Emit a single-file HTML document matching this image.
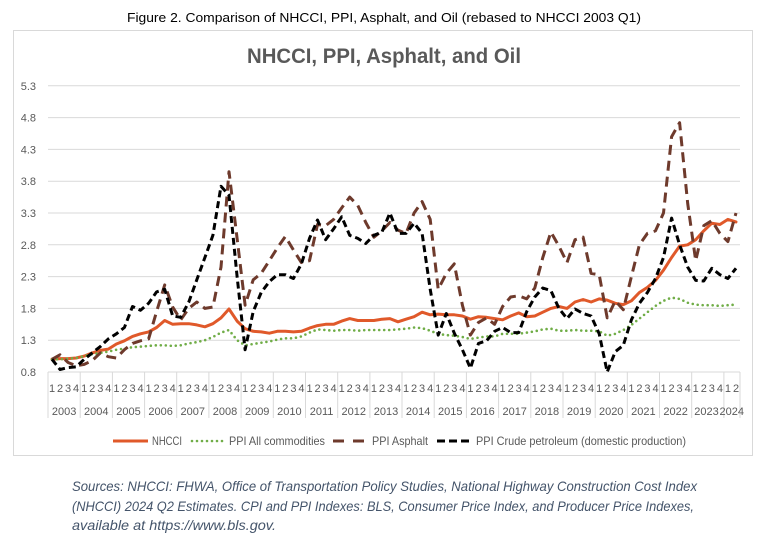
<!DOCTYPE html>
<html>
<head>
<meta charset="utf-8">
<style>
  html, body { margin: 0; padding: 0; background: #ffffff; }
  body { width: 768px; height: 552px; overflow: hidden; }
  svg { display: block; }
  text { font-family: "Liberation Sans", "DejaVu Sans", sans-serif; }
</style>
</head>
<body>
<svg width="768" height="552" viewBox="0 0 768 552" xmlns="http://www.w3.org/2000/svg">
  <rect x="0" y="0" width="768" height="552" fill="#ffffff"/>

  <!-- Caption -->
  <text x="127" y="22" font-size="13" fill="#000000" textLength="514" lengthAdjust="spacingAndGlyphs">Figure 2. Comparison of NHCCI, PPI, Asphalt, and Oil (rebased to NHCCI 2003 Q1)</text>

  <!-- Chart box -->
  <rect x="13.5" y="30.5" width="739" height="425" fill="#ffffff" stroke="#d9d9d9" stroke-width="1"/>

  <!-- Title -->
  <text x="247" y="63" font-size="21" font-weight="bold" fill="#595959" textLength="274" lengthAdjust="spacingAndGlyphs">NHCCI, PPI, Asphalt, and Oil</text>

  <!-- Gridlines -->
  <g stroke="#d9d9d9" stroke-width="1">
    <line x1="48" y1="85.8" x2="740" y2="85.8"/>
    <line x1="48" y1="117.6" x2="740" y2="117.6"/>
    <line x1="48" y1="149.4" x2="740" y2="149.4"/>
    <line x1="48" y1="181.2" x2="740" y2="181.2"/>
    <line x1="48" y1="213.0" x2="740" y2="213.0"/>
    <line x1="48" y1="244.8" x2="740" y2="244.8"/>
    <line x1="48" y1="276.6" x2="740" y2="276.6"/>
    <line x1="48" y1="308.4" x2="740" y2="308.4"/>
    <line x1="48" y1="340.2" x2="740" y2="340.2"/>
    <line x1="48" y1="372.0" x2="740" y2="372.0"/>
  </g>

  <!-- Y labels -->
  <g font-size="11" fill="#595959" text-anchor="end">
    <text x="36" y="89.8">5.3</text>
    <text x="36" y="121.6">4.8</text>
    <text x="36" y="153.4">4.3</text>
    <text x="36" y="185.2">3.8</text>
    <text x="36" y="217.0">3.3</text>
    <text x="36" y="248.8">2.8</text>
    <text x="36" y="280.6">2.3</text>
    <text x="36" y="312.4">1.8</text>
    <text x="36" y="344.2">1.3</text>
    <text x="36" y="376.0">0.8</text>
  </g>

  <!-- Category tick lines -->
  <g stroke="#d9d9d9" stroke-width="1">
    <line x1="48.0" y1="372" x2="48.0" y2="418"/>
    <line x1="80.2" y1="372" x2="80.2" y2="418"/>
    <line x1="112.4" y1="372" x2="112.4" y2="418"/>
    <line x1="144.6" y1="372" x2="144.6" y2="418"/>
    <line x1="176.7" y1="372" x2="176.7" y2="418"/>
    <line x1="208.9" y1="372" x2="208.9" y2="418"/>
    <line x1="241.1" y1="372" x2="241.1" y2="418"/>
    <line x1="273.3" y1="372" x2="273.3" y2="418"/>
    <line x1="305.5" y1="372" x2="305.5" y2="418"/>
    <line x1="337.7" y1="372" x2="337.7" y2="418"/>
    <line x1="369.9" y1="372" x2="369.9" y2="418"/>
    <line x1="402.0" y1="372" x2="402.0" y2="418"/>
    <line x1="434.2" y1="372" x2="434.2" y2="418"/>
    <line x1="466.4" y1="372" x2="466.4" y2="418"/>
    <line x1="498.6" y1="372" x2="498.6" y2="418"/>
    <line x1="530.8" y1="372" x2="530.8" y2="418"/>
    <line x1="563.0" y1="372" x2="563.0" y2="418"/>
    <line x1="595.2" y1="372" x2="595.2" y2="418"/>
    <line x1="627.3" y1="372" x2="627.3" y2="418"/>
    <line x1="659.5" y1="372" x2="659.5" y2="418"/>
    <line x1="691.7" y1="372" x2="691.7" y2="418"/>
    <line x1="723.9" y1="372" x2="723.9" y2="418"/>
    <line x1="740.0" y1="372" x2="740.0" y2="418"/>
  </g>

  <!-- Quarter labels -->
  <g font-size="11" fill="#595959" text-anchor="middle">
    <text y="392"><tspan x="52.0">1</tspan><tspan x="60.0">2</tspan><tspan x="68.1">3</tspan><tspan x="76.1">4</tspan><tspan x="84.2">1</tspan><tspan x="92.2">2</tspan><tspan x="100.3">3</tspan><tspan x="108.3">4</tspan><tspan x="116.4">1</tspan><tspan x="124.4">2</tspan><tspan x="132.5">3</tspan><tspan x="140.5">4</tspan><tspan x="148.6">1</tspan><tspan x="156.6">2</tspan><tspan x="164.7">3</tspan><tspan x="172.7">4</tspan><tspan x="180.7">1</tspan><tspan x="188.8">2</tspan><tspan x="196.8">3</tspan><tspan x="204.9">4</tspan><tspan x="212.9">1</tspan><tspan x="221.0">2</tspan><tspan x="229.0">3</tspan><tspan x="237.1">4</tspan><tspan x="245.1">1</tspan><tspan x="253.2">2</tspan><tspan x="261.2">3</tspan><tspan x="269.3">4</tspan><tspan x="277.3">1</tspan><tspan x="285.3">2</tspan><tspan x="293.4">3</tspan><tspan x="301.4">4</tspan><tspan x="309.5">1</tspan><tspan x="317.5">2</tspan><tspan x="325.6">3</tspan><tspan x="333.6">4</tspan><tspan x="341.7">1</tspan><tspan x="349.7">2</tspan><tspan x="357.8">3</tspan><tspan x="365.8">4</tspan><tspan x="373.9">1</tspan><tspan x="381.9">2</tspan><tspan x="389.9">3</tspan><tspan x="398.0">4</tspan><tspan x="406.0">1</tspan><tspan x="414.1">2</tspan><tspan x="422.1">3</tspan><tspan x="430.2">4</tspan><tspan x="438.2">1</tspan><tspan x="446.3">2</tspan><tspan x="454.3">3</tspan><tspan x="462.4">4</tspan><tspan x="470.4">1</tspan><tspan x="478.5">2</tspan><tspan x="486.5">3</tspan><tspan x="494.6">4</tspan><tspan x="502.6">1</tspan><tspan x="510.7">2</tspan><tspan x="518.7">3</tspan><tspan x="526.7">4</tspan><tspan x="534.8">1</tspan><tspan x="542.8">2</tspan><tspan x="550.9">3</tspan><tspan x="558.9">4</tspan><tspan x="567.0">1</tspan><tspan x="575.0">2</tspan><tspan x="583.1">3</tspan><tspan x="591.1">4</tspan><tspan x="599.2">1</tspan><tspan x="607.2">2</tspan><tspan x="615.3">3</tspan><tspan x="623.3">4</tspan><tspan x="631.4">1</tspan><tspan x="639.4">2</tspan><tspan x="647.4">3</tspan><tspan x="655.5">4</tspan><tspan x="663.5">1</tspan><tspan x="671.6">2</tspan><tspan x="679.6">3</tspan><tspan x="687.7">4</tspan><tspan x="695.7">1</tspan><tspan x="703.8">2</tspan><tspan x="711.8">3</tspan><tspan x="719.9">4</tspan><tspan x="727.9">1</tspan><tspan x="736.0">2</tspan></text>
  </g>

  <!-- Year labels -->
  <g font-size="11" fill="#595959" text-anchor="middle">
    <text x="64.1" y="415">2003</text>
    <text x="96.3" y="415">2004</text>
    <text x="128.5" y="415">2005</text>
    <text x="160.6" y="415">2006</text>
    <text x="192.8" y="415">2007</text>
    <text x="225.0" y="415">2008</text>
    <text x="257.2" y="415">2009</text>
    <text x="289.4" y="415">2010</text>
    <text x="321.6" y="415">2011</text>
    <text x="353.8" y="415">2012</text>
    <text x="386.0" y="415">2013</text>
    <text x="418.1" y="415">2014</text>
    <text x="450.3" y="415">2015</text>
    <text x="482.5" y="415">2016</text>
    <text x="514.7" y="415">2017</text>
    <text x="546.9" y="415">2018</text>
    <text x="579.1" y="415">2019</text>
    <text x="611.2" y="415">2020</text>
    <text x="643.4" y="415">2021</text>
    <text x="675.6" y="415">2022</text>
    <text x="706.5" y="415">2023</text>
    <text x="731.8" y="415">2024</text>
  </g>

  <!-- NHCCI -->
  <polyline fill="none" stroke="#e0592a" stroke-width="3" stroke-linejoin="round" stroke-linecap="round"
    points="52.0,359.3 60.0,358.6 68.1,358.6 76.1,358.0 84.2,356.1 92.2,352.9 100.3,350.4 108.3,349.1 116.4,344.0 124.4,340.8 132.5,336.4 140.5,333.8 148.6,331.9 156.6,327.5 164.7,320.5 172.7,324.3 180.7,323.7 188.8,323.7 196.8,324.9 204.9,326.8 212.9,323.7 221.0,317.9 229.0,309.0 237.1,321.1 245.1,328.7 253.2,331.3 261.2,331.9 269.3,333.2 277.3,331.3 285.3,331.3 293.4,331.9 301.4,331.3 309.5,328.1 317.5,325.6 325.6,324.3 333.6,324.3 341.7,321.1 349.7,318.6 357.8,320.5 365.8,320.5 373.9,320.5 381.9,319.2 389.9,318.6 398.0,321.8 406.0,319.2 414.1,316.7 422.1,312.2 430.2,314.8 438.2,314.1 446.3,314.8 454.3,314.8 462.4,316.0 470.4,319.2 478.5,316.7 486.5,317.3 494.6,318.6 502.6,319.8 510.7,316.0 518.7,312.9 526.7,316.7 534.8,316.0 542.8,312.2 550.9,308.4 558.9,306.5 567.0,308.4 575.0,302.0 583.1,299.5 591.1,302.0 599.2,298.9 607.2,300.1 615.3,303.3 623.3,304.6 631.4,300.8 639.4,292.5 647.4,287.4 655.5,280.4 663.5,270.2 671.6,257.5 679.6,246.1 687.7,244.8 695.7,239.7 703.8,230.8 711.8,223.2 719.9,224.5 727.9,219.4 736.0,221.9"/>

  <!-- PPI All commodities -->
  <polyline fill="none" stroke="#70ad47" stroke-width="2.6" stroke-linecap="round" stroke-dasharray="0 5"
    points="52.0,359.3 60.0,359.3 68.1,358.6 76.1,358.0 84.2,356.1 92.2,354.2 100.3,352.9 108.3,351.6 116.4,349.7 124.4,348.5 132.5,347.2 140.5,346.6 148.6,345.9 156.6,345.3 164.7,345.3 172.7,345.9 180.7,345.3 188.8,343.4 196.8,342.1 204.9,340.2 212.9,337.0 221.0,332.6 229.0,330.0 237.1,340.2 245.1,345.3 253.2,344.0 261.2,342.7 269.3,341.5 277.3,339.6 285.3,338.3 293.4,338.3 301.4,336.4 309.5,332.6 317.5,329.4 325.6,330.0 333.6,330.7 341.7,330.0 349.7,330.0 357.8,330.7 365.8,330.0 373.9,330.0 381.9,330.0 389.9,330.0 398.0,329.4 406.0,328.7 414.1,327.5 422.1,328.1 430.2,330.7 438.2,333.8 446.3,335.1 454.3,335.7 462.4,337.0 470.4,338.9 478.5,337.6 486.5,336.4 494.6,336.4 502.6,333.8 510.7,333.8 518.7,333.8 526.7,332.6 534.8,331.3 542.8,329.4 550.9,328.7 558.9,330.7 567.0,330.7 575.0,330.0 583.1,330.7 591.1,330.7 599.2,331.3 607.2,335.7 615.3,333.8 623.3,330.0 631.4,324.9 639.4,318.6 647.4,312.2 655.5,305.9 663.5,300.8 671.6,297.6 679.6,298.9 687.7,302.7 695.7,304.6 703.8,305.2 711.8,305.2 719.9,305.9 727.9,305.2 736.0,304.6"/>

  <!-- PPI Asphalt -->
  <polyline fill="none" stroke="#6e3a2c" stroke-width="3" stroke-linejoin="round" stroke-dasharray="10 6"
    points="52.0,359.3 60.0,354.8 68.1,362.5 76.1,365.7 84.2,364.4 92.2,360.6 100.3,352.9 108.3,356.7 116.4,358.0 124.4,349.7 132.5,343.4 140.5,340.8 148.6,338.9 156.6,311.6 164.7,284.9 172.7,307.1 180.7,319.8 188.8,308.4 196.8,302.0 204.9,308.4 212.9,307.1 221.0,267.1 229.0,171.7 237.1,238.4 245.1,305.2 253.2,279.8 261.2,273.4 269.3,260.7 277.3,248.0 285.3,236.5 293.4,249.9 301.4,262.6 309.5,260.7 317.5,224.5 325.6,225.7 333.6,219.4 341.7,207.9 349.7,197.1 357.8,205.4 365.8,222.5 373.9,237.2 381.9,230.8 389.9,222.5 398.0,230.2 406.0,233.4 414.1,213.0 422.1,201.6 430.2,219.4 438.2,289.3 446.3,273.4 454.3,263.9 462.4,305.2 470.4,335.1 478.5,322.4 486.5,317.9 494.6,324.3 502.6,306.5 510.7,297.0 518.7,295.7 526.7,298.9 534.8,288.0 542.8,257.5 550.9,232.1 558.9,246.1 567.0,262.6 575.0,239.7 583.1,237.2 591.1,273.4 599.2,274.7 607.2,317.9 615.3,300.8 623.3,309.7 631.4,276.6 639.4,244.8 647.4,233.4 655.5,230.8 663.5,213.0 671.6,136.7 679.6,122.7 687.7,203.5 695.7,260.7 703.8,225.7 711.8,220.6 719.9,233.4 727.9,241.6 736.0,213.0"/>

  <!-- PPI Crude petroleum -->
  <polyline fill="none" stroke="#000000" stroke-width="3" stroke-linejoin="round" stroke-dasharray="7 4"
    points="52.0,359.3 60.0,369.5 68.1,367.6 76.1,366.9 84.2,359.3 92.2,352.9 100.3,346.6 108.3,338.9 116.4,333.8 124.4,327.5 132.5,306.5 140.5,310.3 148.6,303.3 156.6,291.9 164.7,289.3 172.7,316.0 180.7,317.3 188.8,302.0 196.8,279.8 204.9,257.5 212.9,235.3 221.0,186.3 229.0,195.2 237.1,276.6 245.1,349.7 253.2,311.6 261.2,292.5 269.3,281.7 277.3,274.7 285.3,274.7 293.4,278.5 301.4,263.9 309.5,238.4 317.5,220.0 325.6,239.7 333.6,228.9 341.7,216.8 349.7,235.3 357.8,238.4 365.8,243.5 373.9,235.3 381.9,232.1 389.9,213.0 398.0,233.4 406.0,233.4 414.1,223.2 422.1,233.4 430.2,289.3 438.2,335.1 446.3,313.5 454.3,333.2 462.4,349.7 470.4,368.2 478.5,343.4 486.5,340.8 494.6,331.3 502.6,327.5 510.7,332.6 518.7,332.6 526.7,311.6 534.8,297.0 542.8,288.0 550.9,290.6 558.9,308.4 567.0,318.6 575.0,309.0 583.1,313.5 591.1,316.0 599.2,333.8 607.2,372.0 615.3,351.6 623.3,345.3 631.4,319.8 639.4,303.3 647.4,292.5 655.5,278.5 663.5,257.5 671.6,218.1 679.6,244.8 687.7,267.1 695.7,280.4 703.8,281.0 711.8,268.3 719.9,274.7 727.9,278.5 736.0,268.3"/>

  <!-- Legend -->
  <line x1="113" y1="441" x2="148" y2="441" stroke="#e0592a" stroke-width="3"/>
  <text x="152" y="445" font-size="12" fill="#595959" textLength="30" lengthAdjust="spacingAndGlyphs">NHCCI</text>
  <line x1="192" y1="441" x2="224" y2="441" stroke="#70ad47" stroke-width="2.6" stroke-linecap="round" stroke-dasharray="0 5"/>
  <text x="229" y="445" font-size="12" fill="#595959" textLength="96" lengthAdjust="spacingAndGlyphs">PPI All commodities</text>
  <line x1="333" y1="441" x2="364" y2="441" stroke="#6e3a2c" stroke-width="3" stroke-dasharray="11 9"/>
  <text x="372" y="445" font-size="12" fill="#595959" textLength="56" lengthAdjust="spacingAndGlyphs">PPI Asphalt</text>
  <line x1="437" y1="441" x2="469" y2="441" stroke="#000000" stroke-width="3" stroke-dasharray="8 4"/>
  <text x="476" y="445" font-size="12" fill="#595959" textLength="210" lengthAdjust="spacingAndGlyphs">PPI Crude petroleum (domestic production)</text>

  <!-- Sources -->
  <g font-size="14" font-style="italic" fill="#44546a">
    <text x="72" y="491" textLength="625" lengthAdjust="spacingAndGlyphs">Sources: NHCCI: FHWA, Office of Transportation Policy Studies, National Highway Construction Cost Index</text>
    <text x="72" y="511" textLength="622" lengthAdjust="spacingAndGlyphs">(NHCCI) 2024 Q2 Estimates. CPI and PPI Indexes: BLS, Consumer Price Index, and Producer Price Indexes,</text>
    <text x="72" y="530" textLength="204" lengthAdjust="spacingAndGlyphs">available at https://www.bls.gov.</text>
  </g>
</svg>
</body>
</html>
